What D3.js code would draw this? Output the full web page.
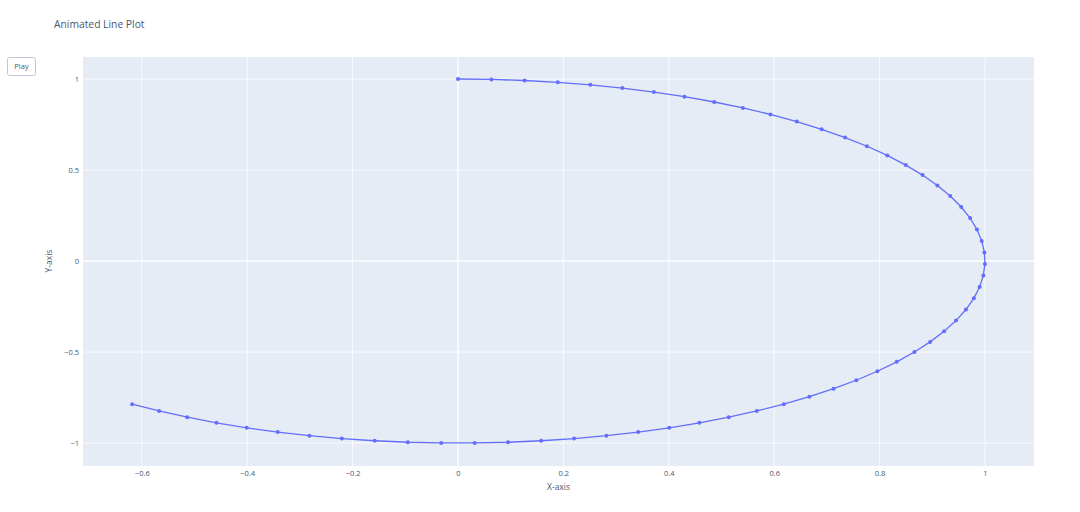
<!DOCTYPE html>
<html>
<head>
<meta charset="utf-8">
<script src="https://cdn.jsdelivr.net/npm/d3@7"></script>
<style>
	body { margin: 0; background: #fff; }
	text { font-family: "Open Sans", verdana, arial, sans-serif; }
</style>
</head>
<body>
<svg id="svg" width="1080" height="512"></svg>
<script>

// values (61 frames shown)
var xValues = [
	0, 0.0634, 0.1266, 0.1893, 0.2511, 0.3120, 0.3717, 0.4298, 0.4862, 0.5406,
	0.5929, 0.6428, 0.6901, 0.7346, 0.7761, 0.8146, 0.8497, 0.8815, 0.9096, 0.9341,
	0.9549, 0.9718, 0.9848, 0.9938, 0.9989, 0.9999, 0.9969, 0.9898, 0.9788, 0.9639,
	0.9450, 0.9224, 0.8960, 0.8660, 0.8326, 0.7958, 0.7558, 0.7127, 0.6668, 0.6182,
	0.5671, 0.5137, 0.4582, 0.4009, 0.3420, 0.2817, 0.2203, 0.1580, 0.0951, 0.0317,
	-0.0317, -0.0951, -0.1580, -0.2203, -0.2817, -0.3420, -0.4009, -0.4582, -0.5137, -0.5671,
	-0.6182
];
var yValues = [
	1, 0.9980, 0.9920, 0.9819, 0.9679, 0.9501, 0.9284, 0.9029, 0.8738, 0.8413,
	0.8053, 0.7660, 0.7237, 0.6785, 0.6306, 0.5801, 0.5272, 0.4723, 0.4154, 0.3569,
	0.2969, 0.2358, 0.1736, 0.1108, 0.0476, -0.0159, -0.0792, -0.1423, -0.2048, -0.2665,
	-0.3271, -0.3863, -0.4441, -0.5000, -0.5539, -0.6056, -0.6549, -0.7015, -0.7453, -0.7861,
	-0.8237, -0.8580, -0.8888, -0.9161, -0.9397, -0.9595, -0.9754, -0.9874, -0.9955, -0.9995,
	-0.9995, -0.9955, -0.9874, -0.9754, -0.9595, -0.9397, -0.9161, -0.8888, -0.8580, -0.8237,
	-0.7861
];
var xTicks = [-0.6, -0.4, -0.2, 0, 0.2, 0.4, 0.6, 0.8, 1];
var yTicks = [-1, -0.5, 0, 0.5, 1];

var svg = d3.select("svg"),
	plotL = 83, plotR = 1034, plotT = 57, plotB = 466,
	textCol = "#4b5770";

var x = d3.scaleLinear().domain([-0.7115, 1.093]).range([plotL, plotR]);
var y = d3.scaleLinear().domain([-1.126, 1.121]).range([plotB, plotT]);

var fmt = function (d) { return d < 0 ? "\u2212" + Math.abs(d) : "" + d; };

svg.append("rect")
	.attr("x", plotL).attr("y", plotT)
	.attr("width", plotR - plotL).attr("height", plotB - plotT)
	.style("fill", "#e5ecf6");

// grid
svg.append("g")
	.selectAll("line")
	.data(xTicks)
	.enter().append("line")
	.attr("x1", function (d) { return x(d); })
	.attr("x2", function (d) { return x(d); })
	.attr("y1", plotT).attr("y2", plotB)
	.style("stroke", "#fff")
	.style("stroke-width", function (d) { return d === 0 ? 1.4 : 0.8; });

svg.append("g")
	.selectAll("line")
	.data(yTicks)
	.enter().append("line")
	.attr("y1", function (d) { return y(d); })
	.attr("y2", function (d) { return y(d); })
	.attr("x1", plotL).attr("x2", plotR)
	.style("stroke", "#fff")
	.style("stroke-width", function (d) { return d === 0 ? 1.4 : 0.8; });

// axes
var xAxis = svg.append("g")
	.attr("transform", "translate(0," + plotB + ")")
	.call(d3.axisBottom(x).tickValues(xTicks).tickSize(0).tickPadding(5).tickFormat(fmt));
var yAxis = svg.append("g")
	.attr("transform", "translate(" + plotL + ",0)")
	.call(d3.axisLeft(y).tickValues(yTicks).tickSize(0).tickPadding(4).tickFormat(fmt));

[xAxis, yAxis].forEach(function (a) {
	a.select(".domain").remove();
	a.selectAll("text")
		.style("font-size", "7.5px")
		.style("fill", textCol)
		.style("font-family", "\"Open Sans\", verdana, arial, sans-serif");
});

// line + markers
var pts = xValues.map(function (d, i) { return [d, yValues[i]]; });

var line = d3.line()
	.x(function (d) { return x(d[0]); })
	.y(function (d) { return y(d[1]); });

svg.append("path")
	.datum(pts)
	.attr("d", line)
	.style("fill", "none")
	.style("stroke", "#636efa")
	.style("stroke-width", 1.3);

svg.append("g")
	.selectAll("circle")
	.data(pts)
	.enter().append("circle")
	.attr("cx", function (d) { return x(d[0]); })
	.attr("cy", function (d) { return y(d[1]); })
	.attr("r", 2)
	.style("fill", "#636efa");

// titles
svg.append("text")
	.attr("x", 54).attr("y", 28)
	.style("font-size", "10.3px")
	.style("fill", textCol)
	.text("Animated Line Plot");

svg.append("text")
	.attr("x", (plotL + plotR) / 2).attr("y", 490)
	.attr("text-anchor", "middle")
	.style("font-size", "8.5px")
	.style("fill", textCol)
	.text("X-axis");

svg.append("text")
	.attr("transform", "translate(52," + y(0) + ") rotate(-90)")
	.attr("text-anchor", "middle")
	.style("font-size", "8.5px")
	.style("fill", textCol)
	.text("Y-axis");

// play button
var btn = svg.append("g").attr("transform", "translate(7,57)");
btn.append("rect")
	.attr("x", 0.5).attr("y", 0.5)
	.attr("width", 28).attr("height", 18)
	.attr("rx", 2)
	.style("fill", "#fff")
	.style("stroke", "#bec8d9")
	.style("stroke-width", 1);
btn.append("text")
	.attr("x", 14.5).attr("y", 12)
	.attr("text-anchor", "middle")
	.style("font-size", "7.5px")
	.style("fill", textCol)
	.text("Play");

</script>
</body>
</html>
